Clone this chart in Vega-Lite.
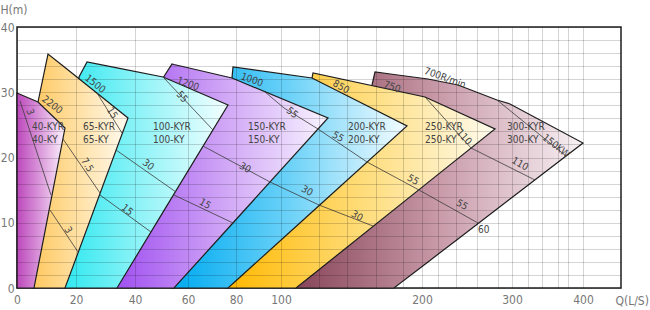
{
  "$schema": "https://vega.github.io/schema/vega-lite/v6.json",
  "width": 604,
  "height": 261,
  "autosize": {"type": "none"},
  "padding": {"left": 17, "top": 27, "right": 29, "bottom": 22},
  "background": "white",
  "config": {
    "view": {"stroke": "#1e1e1e", "strokeWidth": 1.5},
    "font": "Liberation Sans Narrow, DejaVu Sans Condensed, Liberation Sans"
  },
  "datasets": {
    "shapes": [
      {"s": "A", "q": 0, "h": 29.89, "h2": 0},
      {"s": "A", "q": 5.76, "h": 28.77, "h2": 0},
      {"s": "A", "q": 7.12, "h": 28.51, "h2": 3.16},
      {"s": "A", "q": 16.27, "h": 24.52, "h2": 24.52},
      {"s": "B", "q": 5.42, "h": 0, "h2": 0},
      {"s": "B", "q": 7.12, "h": 28.51, "h2": 0},
      {"s": "B", "q": 10.51, "h": 35.86, "h2": 0},
      {"s": "B", "q": 16.27, "h": 33.78, "h2": 0},
      {"s": "B", "q": 37.63, "h": 26.05, "h2": 26.05},
      {"s": "C", "q": 15.93, "h": 0, "h2": 0},
      {"s": "C", "q": 21.02, "h": 32.34, "h2": 0},
      {"s": "C", "q": 23.73, "h": 34.64, "h2": 0},
      {"s": "C", "q": 33.9, "h": 33.73, "h2": 0},
      {"s": "C", "q": 50.57, "h": 32.34, "h2": 11.62},
      {"s": "C", "q": 76.67, "h": 28.05, "h2": 28.05},
      {"s": "D", "q": 33.56, "h": 0, "h2": 0},
      {"s": "D", "q": 50.57, "h": 32.18, "h2": 0},
      {"s": "D", "q": 53.96, "h": 34.33, "h2": 0},
      {"s": "D", "q": 54.72, "h": 34.25, "h2": 0},
      {"s": "D", "q": 78.33, "h": 32.18, "h2": 9.81},
      {"s": "D", "q": 126.43, "h": 26.05, "h2": 26.05},
      {"s": "E", "q": 53.96, "h": 0, "h2": 0},
      {"s": "E", "q": 76.67, "h": 30.04, "h2": 0},
      {"s": "E", "q": 78.33, "h": 32.18, "h2": 0.55},
      {"s": "E", "q": 78.75, "h": 33.87, "h2": 0.69},
      {"s": "E", "q": 116.32, "h": 32.18, "h2": 11.65},
      {"s": "E", "q": 184.21, "h": 24.83, "h2": 24.83},
      {"s": "F", "q": 75.83, "h": 0, "h2": 0},
      {"s": "F", "q": 107.89, "h": 26.21, "h2": 0},
      {"s": "F", "q": 116.32, "h": 32.18, "h2": 1.96},
      {"s": "F", "q": 116.84, "h": 32.95, "h2": 2.08},
      {"s": "F", "q": 203.75, "h": 29.27, "h2": 15.8},
      {"s": "F", "q": 277.14, "h": 24.37, "h2": 24.37},
      {"s": "G", "q": 107.37, "h": 0, "h2": 0},
      {"s": "G", "q": 157.24, "h": 31.11, "h2": 0},
      {"s": "G", "q": 159.31, "h": 33.1, "h2": 0},
      {"s": "G", "q": 173.33, "h": 32.72, "h2": 0},
      {"s": "G", "q": 207.5, "h": 32.03, "h2": 4.0},
      {"s": "G", "q": 241.9, "h": 31.11, "h2": 7.52},
      {"s": "G", "q": 279.05, "h": 28.81, "h2": 12.11},
      {"s": "G", "q": 297.14, "h": 28.2, "h2": 13.64},
      {"s": "G", "q": 400, "h": 22.22, "h2": 22.22}
    ],
    "iso": [
      {"q": 1.02, "h": 28.66, "q2": 11.53, "h2": 14.25},
      {"q": 27.12, "h": 29.89, "q2": 35.59, "h2": 23.75},
      {"q": 15.59, "h": 22.84, "q2": 28.14, "h2": 14.56},
      {"q": 11.19, "h": 11.95, "q2": 20.68, "h2": 5.52},
      {"q": 50.57, "h": 32.34, "q2": 70.42, "h2": 24.21},
      {"q": 33.56, "h": 21.15, "q2": 55.47, "h2": 14.71},
      {"q": 28.14, "h": 14.25, "q2": 46.04, "h2": 8.58},
      {"q": 92.89, "h": 30.04, "q2": 101.58, "h2": 27.59},
      {"q": 101.58, "h": 27.59, "q2": 119.47, "h2": 24.37},
      {"q": 119.47, "h": 24.37, "q2": 153.79, "h2": 19.31},
      {"q": 153.79, "h": 19.31, "q2": 196.84, "h2": 15.02},
      {"q": 196.84, "h": 15.02, "q2": 260.95, "h2": 9.96},
      {"q": 66.25, "h": 21.76, "q2": 95.11, "h2": 16.25},
      {"q": 95.11, "h": 16.25, "q2": 120, "h2": 12.72},
      {"q": 120, "h": 12.72, "q2": 157.93, "h2": 9.5},
      {"q": 54.72, "h": 14.25, "q2": 78.75, "h2": 9.96},
      {"q": 203.75, "h": 29.27, "q2": 254.29, "h2": 21.46},
      {"q": 254.29, "h": 21.46, "q2": 330, "h2": 16.55},
      {"q": 279.05, "h": 28.81, "q2": 376, "h2": 20.23}
    ],
    "labels": [
      {"q": 5.08, "h": 24.67, "t": "40-KYR", "g": "m"},
      {"q": 5.08, "h": 22.68, "t": "40-KY", "g": "m"},
      {"q": 22.37, "h": 24.67, "t": "65-KYR", "g": "m"},
      {"q": 22.37, "h": 22.68, "t": "65-KY", "g": "m"},
      {"q": 46.79, "h": 24.67, "t": "100-KYR", "g": "m"},
      {"q": 46.79, "h": 22.68, "t": "100-KY", "g": "m"},
      {"q": 85.33, "h": 24.67, "t": "150-KYR", "g": "m"},
      {"q": 85.33, "h": 22.68, "t": "150-KY", "g": "m"},
      {"q": 140.69, "h": 24.67, "t": "200-KYR", "g": "m"},
      {"q": 140.69, "h": 22.68, "t": "200-KY", "g": "m"},
      {"q": 203.75, "h": 24.67, "t": "250-KYR", "g": "m"},
      {"q": 203.75, "h": 22.68, "t": "250-KY", "g": "m"},
      {"q": 292.86, "h": 24.67, "t": "300-KYR", "g": "m"},
      {"q": 292.86, "h": 22.68, "t": "300-KY", "g": "m"},
      {"q": 260.95, "h": 8.89, "t": "60", "g": "m"},
      {"q": 60, "h": 31.26, "t": "1200", "g": "r20"},
      {"q": 87.11, "h": 31.88, "t": "1000", "g": "r20"},
      {"q": 171.85, "h": 30.8, "t": "750", "g": "r20"},
      {"q": 227.78, "h": 32.18, "t": "700R/min", "g": "r20"},
      {"q": 135.71, "h": 30.8, "t": "850", "g": "r30"},
      {"q": 67.08, "h": 12.87, "t": "15", "g": "r30"},
      {"q": 84, "h": 18.39, "t": "30", "g": "r30"},
      {"q": 133.57, "h": 23.14, "t": "55", "g": "r30"},
      {"q": 113.68, "h": 14.87, "t": "30", "g": "r30"},
      {"q": 190.53, "h": 16.55, "t": "55", "g": "r30"},
      {"q": 146.9, "h": 11.03, "t": "30", "g": "r30"},
      {"q": 310, "h": 19.0, "t": "110", "g": "r30"},
      {"q": 245.71, "h": 12.72, "t": "55", "g": "r30"},
      {"q": 11.86, "h": 28.05, "t": "2200", "g": "r38"},
      {"q": 26.44, "h": 31.26, "t": "1500", "g": "r38"},
      {"q": 44.91, "h": 18.85, "t": "30", "g": "r38"},
      {"q": 37.29, "h": 11.95, "t": "15", "g": "r38"},
      {"q": 105.79, "h": 26.82, "t": "55", "g": "r38"},
      {"q": 357.5, "h": 21.76, "t": "150KW", "g": "r38"},
      {"q": 57.74, "h": 29.27, "t": "55", "g": "r48"},
      {"q": 247.62, "h": 23.14, "t": "110", "g": "r48"},
      {"q": 32.2, "h": 26.82, "t": "15", "g": "r58"},
      {"q": 23.73, "h": 18.85, "t": "7.5", "g": "r58"},
      {"q": 17.29, "h": 8.89, "t": "3", "g": "r58"},
      {"q": 4.41, "h": 26.97, "t": "3", "g": "r70"}
    ]
  },
  "encoding": {
    "x": {
      "field": "q",
      "type": "quantitative",
      "scale": {
        "type": "linear",
        "domain": [0, 20, 40, 60, 80, 100, 120, 140, 160, 180, 200, 220, 240, 260, 280, 300, 320, 340, 360, 380, 400, 450],
        "range": [0, 59, 118, 171, 219, 264, 302, 330, 359, 386, 405, 421, 439, 460, 481, 495, 511, 525, 541, 551, 566, 604],
        "nice": false,
        "zero": false
      },
      "axis": {
        "values": [0, 20, 40, 60, 80, 100, 120, 140, 160, 180, 200, 220, 240, 260, 280, 300, 320, 340, 360, 380, 400],
        "labelExpr": "indexof([0,20,40,60,80,100,200,300,400], datum.value) >= 0 ? datum.label : ''",
        "labelOverlap": false,
        "labelFlush": false,
        "grid": true,
        "gridColor": "#000000",
        "gridOpacity": 0.17,
        "gridWidth": 1,
        "ticks": false,
        "domain": false,
        "zindex": 1,
        "labelFontSize": 12,
        "labelColor": "#777777",
        "labelPadding": 6,
        "title": "Q(L/S)",
        "titleX": 598,
        "titleY": 12,
        "titleAlign": "left",
        "titleBaseline": "middle",
        "titleAngle": 0,
        "titleFontSize": 12,
        "titleFontWeight": "normal",
        "titleColor": "#777777"
      }
    },
    "y": {
      "field": "h",
      "type": "quantitative",
      "scale": {"domain": [0, 40], "nice": false, "zero": true},
      "axis": {
        "values": [0, 2, 4, 6, 8, 10, 12, 14, 16, 18, 20, 22, 24, 26, 28, 30, 32, 34, 36, 38, 40],
        "labelExpr": "datum.value % 10 === 0 ? datum.label : ''",
        "labelOverlap": false,
        "labelFlush": false,
        "grid": true,
        "gridColor": "#000000",
        "gridOpacity": 0.17,
        "gridWidth": 1,
        "ticks": false,
        "domain": false,
        "zindex": 1,
        "labelFontSize": 12,
        "labelColor": "#777777",
        "labelPadding": 3,
        "title": "H(m)",
        "titleX": -17,
        "titleY": -18,
        "titleAlign": "left",
        "titleBaseline": "middle",
        "titleAngle": 0,
        "titleFontSize": 12,
        "titleFontWeight": "normal",
        "titleColor": "#777777"
      }
    }
  },
  "layer": [
    {
      "data": {"name": "shapes"},
      "transform": [{"filter": "datum.s === 'G'"}],
      "mark": {"type": "area", "orient": "vertical", "stroke": "#1e1e1e", "strokeWidth": 1.2,
        "fill": {"gradient": "linear", "x1": 0, "y1": 0, "x2": 1, "y2": 0, "stops": [{"offset": 0, "color": "#874558"}, {"offset": 0.5, "color": "#c99aa9"}, {"offset": 1, "color": "#f8f2f5"}]}},
      "encoding": {"y2": {"field": "h2"}}
    },
    {
      "data": {"name": "shapes"},
      "transform": [{"filter": "datum.s === 'F'"}],
      "mark": {"type": "area", "orient": "vertical", "stroke": "#1e1e1e", "strokeWidth": 1.2,
        "fill": {"gradient": "linear", "x1": 0, "y1": 0, "x2": 1, "y2": 0, "stops": [{"offset": 0, "color": "#ffb800"}, {"offset": 0.5, "color": "#ffdc78"}, {"offset": 1, "color": "#fffbee"}]}},
      "encoding": {"y2": {"field": "h2"}}
    },
    {
      "data": {"name": "shapes"},
      "transform": [{"filter": "datum.s === 'E'"}],
      "mark": {"type": "area", "orient": "vertical", "stroke": "#1e1e1e", "strokeWidth": 1.2,
        "fill": {"gradient": "linear", "x1": 0, "y1": 0, "x2": 1, "y2": 0, "stops": [{"offset": 0, "color": "#00aaf0"}, {"offset": 0.5, "color": "#6cd2f8"}, {"offset": 1, "color": "#f4fcff"}]}},
      "encoding": {"y2": {"field": "h2"}}
    },
    {
      "data": {"name": "shapes"},
      "transform": [{"filter": "datum.s === 'D'"}],
      "mark": {"type": "area", "orient": "vertical", "stroke": "#1e1e1e", "strokeWidth": 1.2,
        "fill": {"gradient": "linear", "x1": 0, "y1": 0, "x2": 1, "y2": 0, "stops": [{"offset": 0, "color": "#a050f0"}, {"offset": 0.5, "color": "#cfa4f6"}, {"offset": 1, "color": "#f8f4ff"}]}},
      "encoding": {"y2": {"field": "h2"}}
    },
    {
      "data": {"name": "shapes"},
      "transform": [{"filter": "datum.s === 'C'"}],
      "mark": {"type": "area", "orient": "vertical", "stroke": "#1e1e1e", "strokeWidth": 1.2,
        "fill": {"gradient": "linear", "x1": 0, "y1": 0, "x2": 1, "y2": 0, "stops": [{"offset": 0, "color": "#30e8f0"}, {"offset": 0.5, "color": "#96f4f8"}, {"offset": 1, "color": "#f4ffff"}]}},
      "encoding": {"y2": {"field": "h2"}}
    },
    {
      "data": {"name": "shapes"},
      "transform": [{"filter": "datum.s === 'B'"}],
      "mark": {"type": "area", "orient": "vertical", "stroke": "#1e1e1e", "strokeWidth": 1.2,
        "fill": {"gradient": "linear", "x1": 0, "y1": 0, "x2": 1, "y2": 0, "stops": [{"offset": 0, "color": "#ffc860"}, {"offset": 0.5, "color": "#ffe2a8"}, {"offset": 1, "color": "#fffaf0"}]}},
      "encoding": {"y2": {"field": "h2"}}
    },
    {
      "data": {"name": "shapes"},
      "transform": [{"filter": "datum.s === 'A'"}],
      "mark": {"type": "area", "orient": "vertical", "stroke": "#1e1e1e", "strokeWidth": 1.2,
        "fill": {"gradient": "linear", "x1": 0, "y1": 0, "x2": 1, "y2": 0, "stops": [{"offset": 0, "color": "#bc48bc"}, {"offset": 0.5, "color": "#dc9cdc"}, {"offset": 1, "color": "#fcf2fc"}]}},
      "encoding": {"y2": {"field": "h2"}}
    },
    {
      "data": {"name": "iso"},
      "mark": {"type": "rule", "color": "#3c3c3c", "strokeWidth": 0.8},
      "encoding": {"x2": {"field": "q2"}, "y2": {"field": "h2"}}
    },
    {
      "data": {"name": "labels"},
      "transform": [{"filter": "datum.g === 'm'"}],
      "mark": {"type": "text", "align": "left", "baseline": "middle", "fontSize": 10, "color": "#444444"},
      "encoding": {"text": {"field": "t"}}
    },
    {
      "data": {"name": "labels"},
      "transform": [{"filter": "datum.g === 'r20'"}],
      "mark": {"type": "text", "align": "center", "baseline": "middle", "angle": 20, "fontSize": 10, "color": "#444444"},
      "encoding": {"text": {"field": "t"}}
    },
    {
      "data": {"name": "labels"},
      "transform": [{"filter": "datum.g === 'r30'"}],
      "mark": {"type": "text", "align": "center", "baseline": "middle", "angle": 30, "fontSize": 10, "color": "#444444"},
      "encoding": {"text": {"field": "t"}}
    },
    {
      "data": {"name": "labels"},
      "transform": [{"filter": "datum.g === 'r38'"}],
      "mark": {"type": "text", "align": "center", "baseline": "middle", "angle": 38, "fontSize": 10, "color": "#444444"},
      "encoding": {"text": {"field": "t"}}
    },
    {
      "data": {"name": "labels"},
      "transform": [{"filter": "datum.g === 'r48'"}],
      "mark": {"type": "text", "align": "center", "baseline": "middle", "angle": 48, "fontSize": 10, "color": "#444444"},
      "encoding": {"text": {"field": "t"}}
    },
    {
      "data": {"name": "labels"},
      "transform": [{"filter": "datum.g === 'r58'"}],
      "mark": {"type": "text", "align": "center", "baseline": "middle", "angle": 58, "fontSize": 10, "color": "#444444"},
      "encoding": {"text": {"field": "t"}}
    },
    {
      "data": {"name": "labels"},
      "transform": [{"filter": "datum.g === 'r70'"}],
      "mark": {"type": "text", "align": "center", "baseline": "middle", "angle": 70, "fontSize": 10, "color": "#444444"},
      "encoding": {"text": {"field": "t"}}
    }
  ]
}
